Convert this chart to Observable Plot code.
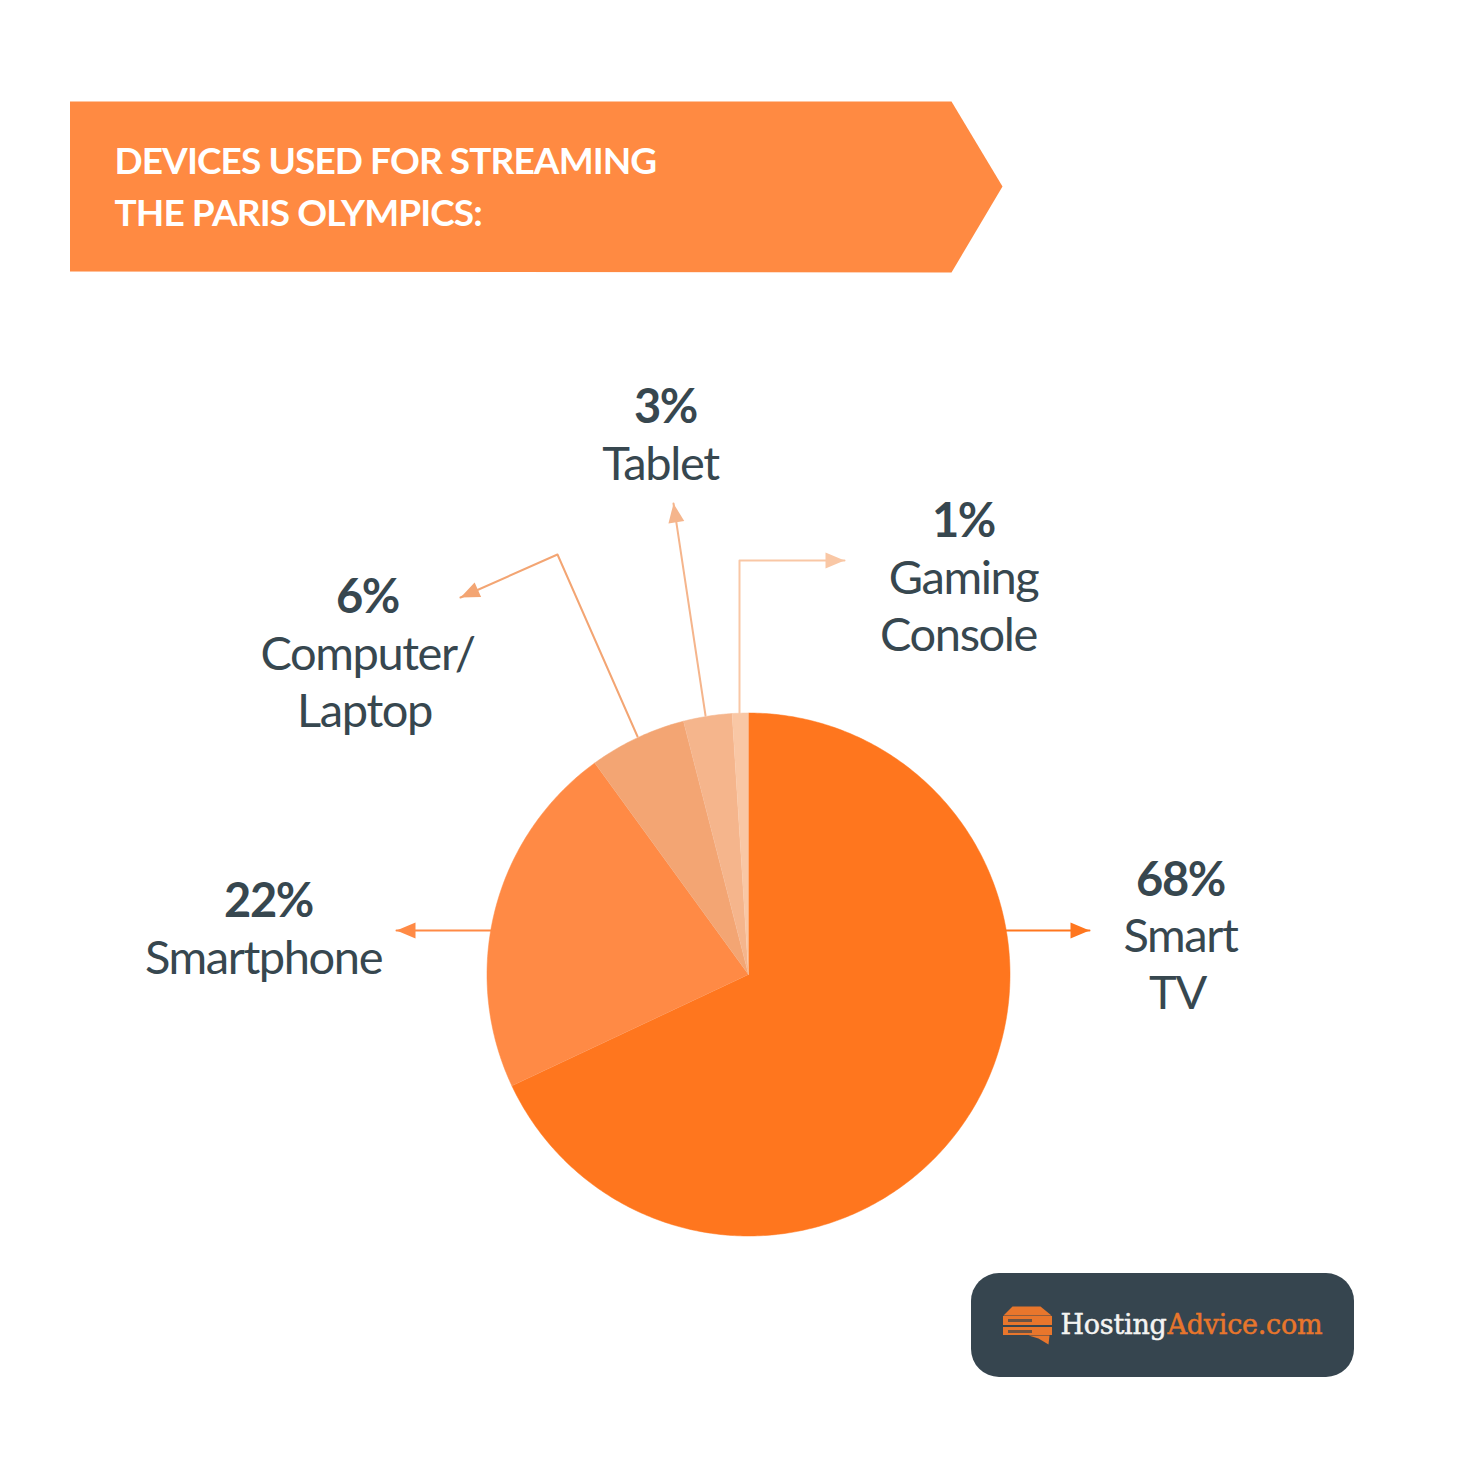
<!DOCTYPE html>
<html>
<head>
<meta charset="utf-8">
<script src="https://cdn.jsdelivr.net/npm/d3@7"></script>
<script src="https://cdn.jsdelivr.net/npm/@observablehq/plot@0.6"></script>
<style>
html,body{margin:0;padding:0;background:#fff}
svg{display:block}
g[font-size="37"]{letter-spacing:-0.9px}
g[font-size="47"][font-weight="700"]{letter-spacing:-1.3px}
g[font-size="47"][font-weight="400"]{letter-spacing:-1.4px}
g[font-size="27"]{letter-spacing:-0.25px}
</style>
</head>
<body>
<div id="chart"></div>
<script>
const devices = ["Smart TV", "Smartphone", "Computer/Laptop", "Tablet", "Gaming Console"];
const shares = [68, 22, 6, 3, 1];
const sliceColors = ["#ff761e", "#ff8a45", "#f3a573", "#f5b58c", "#f9c7a5"];

const titleLines = ["DEVICES USED FOR STREAMING", "THE PARIS OLYMPICS:"];
const valueLabels = ["68%", "22%", "6%", "3%", "1%"];
const nameLabels = [["Smart", "TV"], ["Smartphone"], ["Computer/", "Laptop"], ["Tablet"], ["Gaming", "Console"]];

// Layout of the annotations, in page pixels
const centerX = 748, centerY = 974, radius = 261.5;
const valueAt = [[1180, 880], [268, 901], [367, 597], [665, 407], [963, 521]];
const nameAt = [[[1180, 936], [1177, 993]], [[263, 958]], [[367, 654], [364, 711]], [[660, 464]], [[963, 578], [958, 635]]];
const leaders = [
  [[1006, 930], [1089, 930]],
  [[490, 930], [396, 930]],
  [[637, 736], [557, 554], [460, 597]],
  [[705, 715], [673, 503]],
  [[739, 713], [739, 560], [844, 560]]
];
const bannerOutline = [[69.5, 101], [951, 101], [1002, 186], [951, 272], [69.5, 271]];

// Slices: d3.pie turns the shares into angles, clockwise from the top
const arcs = d3.pie().sort(null).value(d => d)(shares);
const slicePoints = arcs.flatMap((a, i) => {
  const n = Math.max(4, Math.ceil((a.endAngle - a.startAngle) * 90));
  const rim = d3.range(n + 1).map(k => {
    const t = a.startAngle + (a.endAngle - a.startAngle) * k / n;
    return {i, x: centerX + radius * Math.sin(t), y: centerY - radius * Math.cos(t)};
  });
  return [{i, x: centerX, y: centerY}, ...rim];
});

const leaderPoints = leaders.flatMap((pts, i) => pts.map(([x, y]) => ({i, x, y})));
const headPoints = leaders.flatMap((pts, i) => {
  const [x1, y1] = pts[pts.length - 2], [x2, y2] = pts[pts.length - 1];
  const L = Math.hypot(x2 - x1, y2 - y1), ux = (x2 - x1) / L, uy = (y2 - y1) / L;
  const len = 19, hw = 8;
  const bx = x2 - ux * len, by = y2 - uy * len;
  return [
    {i, x: x2, y: y2},
    {i, x: bx - uy * hw, y: by + ux * hw},
    {i, x: bx + uy * hw, y: by - ux * hw}
  ];
});

const valueRows = valueLabels.map((t, i) => ({t, x: valueAt[i][0], y: valueAt[i][1]}));
const nameRows = nameLabels.flatMap((lines, i) => lines.map((t, k) => ({t, x: nameAt[i][k][0], y: nameAt[i][k][1]})));
const titleRows = titleLines.map((t, i) => ({t, x: 114, y: [162, 214][i]}));
const ink = "#37474f";
const idx = () => d => sliceColors[d.i];

// Logo artwork
const logoTop = [[1003, 1315], [1012, 1306], [1040, 1306], [1051, 1315]];
const logoTail = [[1028, 1335], [1049, 1335], [1048, 1344], [1038, 1338]];
const logoBars = [{y1: 1316, y2: 1325}, {y1: 1327, y2: 1335}];
const logoSlots = [{x1: 1008, x2: 1032, y1: 1319, y2: 1322}, {x1: 1008, x2: 1032, y1: 1330, y2: 1333}];

const chart = Plot.plot({
  width: 1472, height: 1472,
  marginTop: 0, marginRight: 0, marginBottom: 0, marginLeft: 0,
  style: {background: "#fff"},
  x: {domain: [0, 1472], range: [0, 1472], axis: null},
  y: {domain: [0, 1472], range: [0, 1472], axis: null},
  marks: [
    Plot.line(bannerOutline, {x: d => d[0], y: d => d[1], fill: "#ff8a42", stroke: "none"}),
    Plot.text(titleRows, {
      x: "x", y: "y", text: "t", textAnchor: "start", fill: "#fff",
      fontFamily: "Lato", fontWeight: 700, fontSize: 37
    }),
    Plot.line(slicePoints, {x: "x", y: "y", z: "i", fill: idx(), stroke: idx(), strokeWidth: 0.5}),
    Plot.line(leaderPoints, {x: "x", y: "y", z: "i", stroke: idx(), strokeWidth: 2, fill: "none"}),
    Plot.line(headPoints, {x: "x", y: "y", z: "i", fill: idx(), stroke: "none"}),
    Plot.text(valueRows, {
      x: "x", y: "y", text: "t", fill: ink, fontFamily: "Lato", fontWeight: 700, fontSize: 47
    }),
    Plot.text(nameRows, {
      x: "x", y: "y", text: "t", fill: ink, fontFamily: "Lato", fontWeight: 400, fontSize: 47
    }),
    Plot.rect([{x1: 971, x2: 1354, y1: 1273, y2: 1377}], {
      x1: "x1", x2: "x2", y1: "y1", y2: "y2", fill: "#36454f", rx: 28
    }),
    Plot.line(logoTop, {x: d => d[0], y: d => d[1], fill: "#e8762c", stroke: "none"}),
    Plot.line(logoTail, {x: d => d[0], y: d => d[1], fill: "#e8762c", stroke: "none"}),
    Plot.rect(logoBars, {x1: 1003, x2: 1052, y1: "y1", y2: "y2", fill: "#e8762c"}),
    Plot.rect(logoSlots, {x1: "x1", x2: "x2", y1: "y1", y2: "y2", fill: "#36454f", opacity: 0.7}),
    Plot.text(["Hosting"], {
      x: 1060, y: 1325, text: d => d, textAnchor: "start", fill: "#f4f4f2",
      stroke: "#f4f4f2", strokeWidth: 0.5,
      fontFamily: "DejaVu Serif", fontSize: 27
    }),
    Plot.text(["Advice.com"], {
      x: 1167, y: 1325, text: d => d, textAnchor: "start", fill: "#e8762c",
      stroke: "#e8762c", strokeWidth: 0.5,
      fontFamily: "DejaVu Serif", fontSize: 27
    })
  ]
});
document.getElementById("chart").append(chart);
</script>
</body>
</html>
